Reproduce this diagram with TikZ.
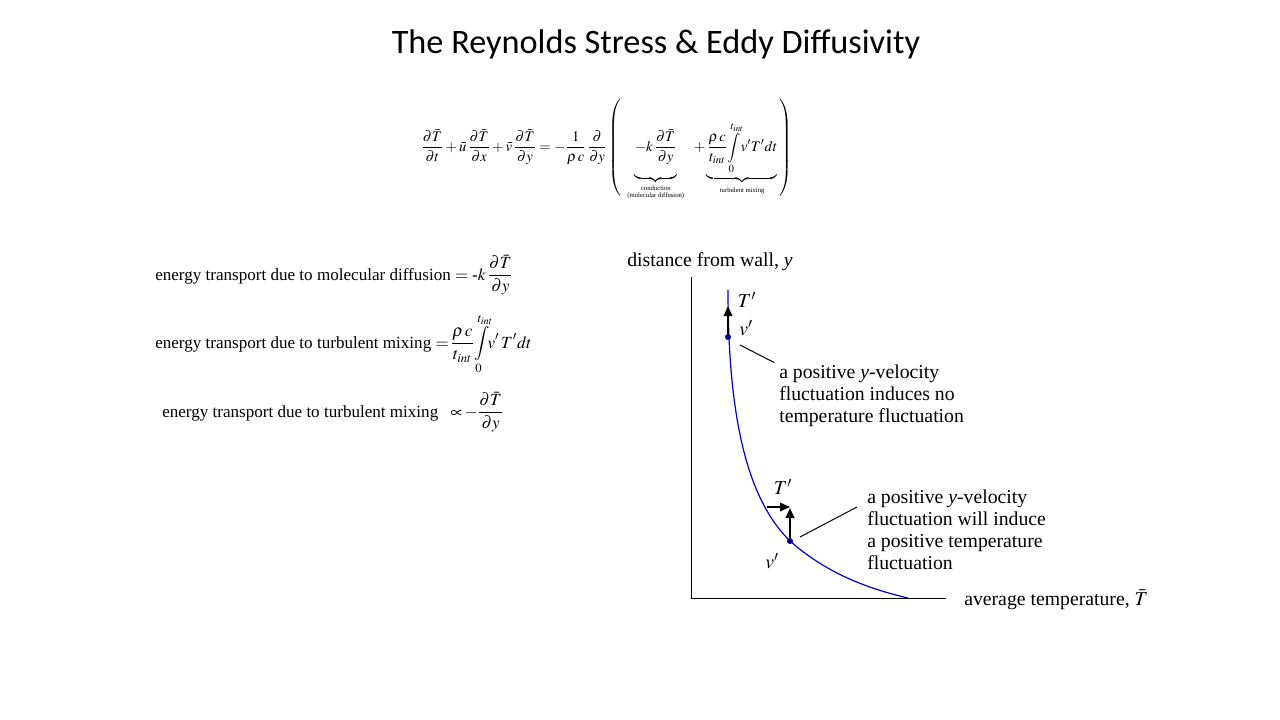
\documentclass[tikz,border=0pt]{standalone}
\usepackage{amsmath}
\usepackage{mathptmx}
\usepackage{fontspec}
\setmainfont{Liberation Serif}
\newfontfamily\slidefont{Carlito}
\usetikzlibrary{arrows.meta,positioning}

\begin{document}
\begin{tikzpicture}[x=0.75pt,y=-0.75pt,
  txt/.style={font=\fontsize{12.8}{15}\selectfont,inner sep=0pt,anchor=base west},
  lbl/.style={font=\fontsize{14.8}{16.5}\selectfont,inner sep=0pt},
  note/.style={lbl,align=left,anchor=north west},
  curve/.style={blue!80!black,line width=0.9pt},
  vec/.style={-{Triangle[length=7.5pt,width=6.5pt]},line width=1.1pt},
  dot/.style={circle,fill=blue!55!black,inner sep=0pt,minimum size=4.5pt}]
  \fill[white] (0,0) rectangle (1280,720);
  \useasboundingbox (0,0) rectangle (1280,720);

  \node[font=\slidefont\fontsize{25.7}{30}\selectfont] (title) at (656,44) {The Reynolds Stress \& Eddy Diffusivity};

  % transport equation
  \node[anchor=west,inner sep=0pt,font=\fontsize{11}{12}\selectfont] (eqmain) at (421,148)
    {$\displaystyle\frac{\partial\bar T}{\partial t}+\bar u\,\frac{\partial\bar T}{\partial x}+\bar v\,\frac{\partial\bar T}{\partial y}=-\frac{1}{\rho\,c}\,\frac{\partial}{\partial y}\left(\rule[-34pt]{0pt}{68pt}\smash{\;\;
     \underbrace{-k\,\frac{\partial\bar T}{\partial y}\vphantom{\int\limits_0^{t}}}_{\substack{\text{\tiny conduction}\\[-1pt] \text{\tiny (molecular diffusion)}}}\;\;\,
     +\underbrace{\frac{\rho\,c}{t_{int}}\!\int\limits_0^{t_{int}}\!v'T'dt}_{\text{\tiny turbulent mixing}}\,}\right)$};

  \node[txt] (eqmol) at (155,280) {energy transport due to molecular diffusion $=\text{-}k\,\dfrac{\partial\bar T}{\partial y}$};
  \node[txt] (eqturb) at (155,348) {energy transport due to turbulent mixing $=\!\dfrac{\rho\,c}{t_{int}}\displaystyle\!\int\limits_0^{t_{int}}\!\!v'\,T'dt$};
  \node[txt] (eqprop) at (162,417) {energy transport due to turbulent mixing\hspace{6pt} $\propto\!-\dfrac{\partial\bar T}{\partial y}$};

  % axes and profile
  \coordinate (ytop) at (691,277);
  \coordinate (origin) at (691,598);
  \coordinate (xend) at (946,598);
  \draw[line width=0.75pt] (ytop) -- (origin) -- (xend);
  \node[lbl,anchor=base west] (ylabel) at (627,266) {distance from wall, \textit{y}};
  \node[lbl,anchor=base west] (xlabel) at (964,605) {average temperature, $\bar T$};
  \draw[curve] (728,290) .. controls (728,420) and (748,500) .. (790,541)
    .. controls (825,572) and (865,588) .. (908,598);

  \node[dot] (ptA) at (728,337) {};
  \node[dot] (ptB) at (790,541) {};
  \coordinate (tipA) at (728,306);
  \coordinate (tipB) at (790,508);
  \coordinate (tailB) at (767,507);
  \coordinate (tipBx) at (790,507);
  \draw[vec] (ptA) -- (tipA);
  \draw[vec] (ptB) -- (tipB);
  \draw[vec] (tailB) -- (tipBx);
  \node[lbl] (TA) at (747,300) {$T'$};
  \node[lbl] (vA) at (746,328) {$v'$};
  \node[lbl] (TB) at (783,487) {$T'$};
  \node[lbl] (vB) at (772,561) {$v'$};

  \node[note] (noteA) at (779,365) {a positive \textit{y}-velocity\\fluctuation induces no\\temperature fluctuation};
  \node[note] (noteB) at (867,490) {a positive \textit{y}-velocity\\fluctuation will induce\\a positive temperature\\fluctuation};
  \coordinate (leadA) at (740,345);
  \coordinate (leadB) at (800,537);
  \coordinate (endB) at (857,507);
  \draw[line width=0.75pt,shorten >=4pt] (leadA) -- (noteA.north west);
  \draw[line width=0.75pt] (leadB) -- (endB);
\end{tikzpicture}
\end{document}
